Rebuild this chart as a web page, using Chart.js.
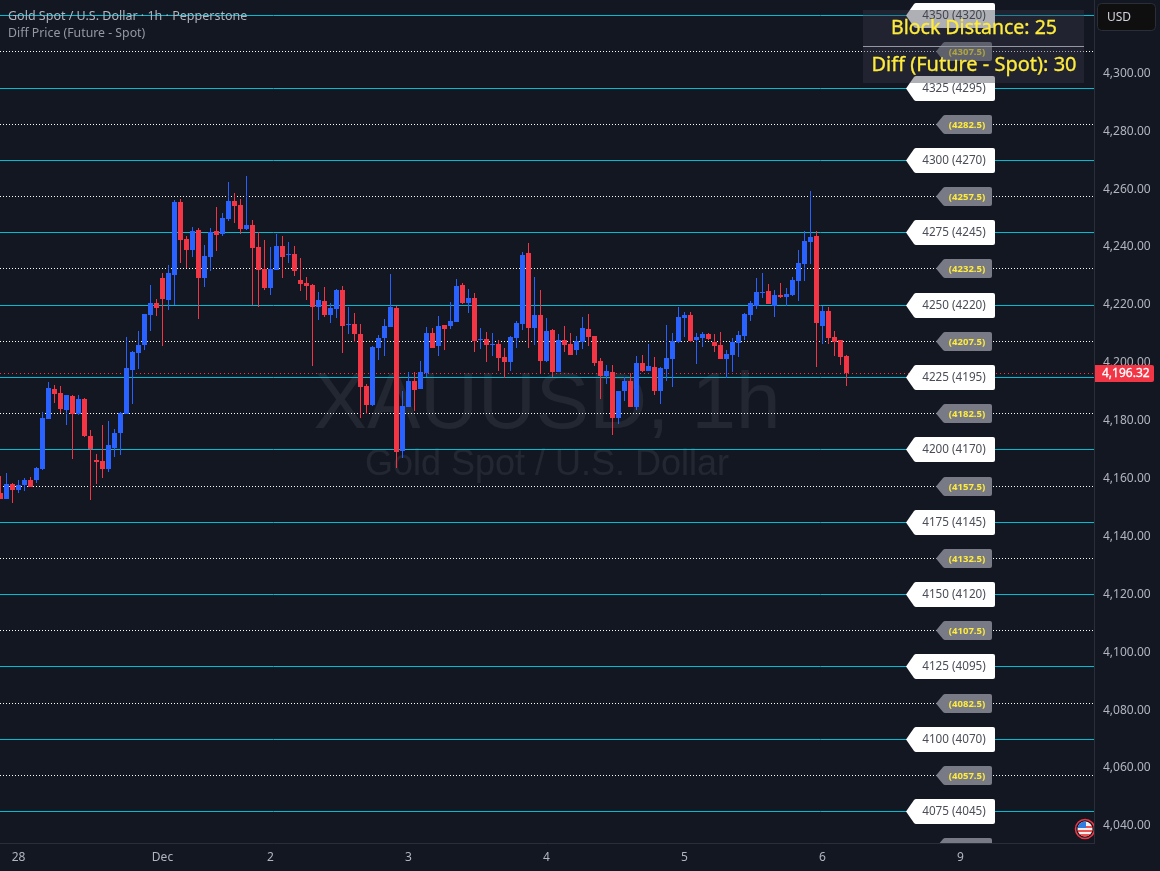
<!DOCTYPE html>
<html>
<head>
<meta charset="utf-8">
<title>XAUUSD 1h</title>
<style>
  html, body { margin: 0; padding: 0; background: #131722; overflow: hidden; }
  canvas { display: block; }
</style>
<script src="https://cdn.jsdelivr.net/npm/chart.js@4/dist/chart.umd.min.js"></script>
</head>
<body>
<canvas id="chart" width="1160" height="871"></canvas>
<script>
// XAUUSD 1h candles
const opens = [4155.2,4153.0,4158.1,4156.1,4157.8,4159.5,4159.5,4163.3,4180.6,4191.0,4189.6,4183.7,4188.5,4182.3,4187.5,4174.7,4166.4,4166.1,4163.3,4170.6,
  4175.8,4182.3,4197.5,4203.4,4206.2,4216.5,4220.7,4229.3,4221.7,4230.3,4255.6,4242.8,4239.0,4245.9,4229.3,4236.6,4245.5,4244.5,4249.7,4255.9,
  4254.5,4246.2,4247.6,4240.0,4232.4,4225.9,4232.1,4240.4,4237.3,4237.6,4228.6,4227.6,4226.9,4219.3,4221.4,4216.5,4218.6,4225.2,4213.1,4213.4,
  4210.0,4192.0,4185.4,4205.1,4208.6,4212.4,4218.9,4169.5,4184.7,4193.7,4191.0,4196.5,4210.3,4205.8,4213.1,4212.7,4214.1,4226.9,4220.7,4222.4,
  4207.9,4208.2,4206.2,4206.5,4202.0,4200.3,4208.6,4213.4,4237.9,4212.0,4216.5,4200.6,4211.3,4196.8,4207.9,4206.5,4204.4,4207.2,4211.7,4209.3,
  4200.6,4195.5,4196.8,4181.0,4190.3,4193.7,4184.8,4200.0,4197.2,4198.6,4190.3,4197.9,4201.3,4207.2,4215.5,4216.5,4207.9,4208.6,4210.0,4207.2,
  4206.2,4201.3,4202.7,4206.9,4209.3,4216.5,4219.6,4224.1,4224.8,4219.6,4223.4,4222.8,4223.4,4228.3,4234.2,4241.8,4243.8,4212.7,4217.9,4208.9,
  4207.9,4202.4];
const highs = [4160.9,4161.9,4158.5,4159.5,4160.2,4160.6,4164.0,4183.0,4193.4,4192.3,4192.0,4188.9,4188.9,4188.9,4187.9,4176.8,4168.5,4178.5,4179.9,4177.1,
  4183.0,4208.9,4204.1,4211.0,4216.9,4226.9,4222.1,4231.0,4233.8,4256.3,4256.6,4243.8,4246.9,4246.6,4240.7,4246.6,4253.8,4251.8,4262.5,4258.7,
  4256.6,4264.5,4249.3,4245.2,4242.4,4240.0,4244.5,4243.8,4241.8,4240.4,4236.2,4229.7,4227.2,4224.5,4226.2,4220.7,4225.5,4226.5,4219.3,4217.2,
  4213.4,4192.7,4205.8,4209.6,4215.1,4230.7,4219.6,4190.3,4196.8,4196.8,4200.6,4212.4,4212.0,4216.2,4213.1,4221.0,4229.0,4227.6,4225.5,4224.1,
  4212.0,4210.7,4210.3,4207.9,4205.1,4209.3,4214.5,4238.3,4241.4,4229.7,4225.2,4215.5,4211.7,4210.0,4212.7,4210.3,4209.3,4215.8,4216.9,4209.3,
  4201.7,4199.3,4199.3,4190.3,4195.1,4196.5,4202.4,4202.7,4206.5,4202.0,4198.6,4213.1,4210.3,4219.3,4217.6,4217.6,4210.3,4210.7,4210.3,4210.0,
  4210.7,4204.4,4208.6,4211.0,4217.2,4221.4,4229.3,4231.0,4227.2,4225.2,4227.6,4225.9,4229.7,4239.0,4245.6,4259.4,4245.6,4219.6,4219.3,4211.0,
  4207.9,4202.7];
const lows = [4153.0,4153.0,4151.6,4155.0,4155.7,4157.1,4158.5,4163.0,4180.6,4186.1,4182.6,4178.5,4166.8,4182.0,4174.4,4152.6,4158.1,4160.2,4162.3,4167.5,
  4168.2,4182.3,4185.8,4197.9,4204.4,4211.0,4216.2,4205.8,4218.3,4220.0,4234.5,4232.8,4236.6,4215.1,4226.2,4231.7,4238.6,4243.8,4249.0,4248.3,
  4244.5,4245.9,4220.0,4219.3,4225.2,4223.4,4232.1,4229.3,4234.5,4230.0,4224.8,4221.7,4198.9,4214.8,4215.8,4213.8,4215.5,4203.4,4210.0,4207.2,
  4180.9,4182.3,4185.1,4201.0,4202.4,4212.4,4163.7,4167.1,4184.7,4183.4,4191.0,4195.1,4205.1,4202.4,4204.4,4211.7,4214.1,4220.3,4217.2,4203.7,
  4204.8,4200.3,4202.4,4197.2,4194.8,4197.2,4205.1,4211.3,4205.1,4206.2,4196.1,4200.3,4195.1,4196.8,4203.7,4202.7,4202.7,4204.8,4205.8,4198.9,
  4187.5,4192.7,4175.1,4178.9,4186.8,4184.8,4183.7,4196.8,4197.2,4188.9,4185.8,4193.7,4191.7,4206.9,4208.9,4207.2,4199.6,4205.5,4207.9,4203.7,
  4201.3,4194.8,4196.8,4202.0,4207.9,4214.5,4218.6,4222.4,4220.3,4215.8,4222.4,4219.6,4223.1,4221.4,4228.3,4234.2,4198.6,4206.5,4206.5,4202.4,
  4199.3,4192.0];
const closes = [4153.0,4158.1,4156.1,4157.8,4159.5,4157.1,4163.7,4180.9,4191.3,4189.2,4184.0,4188.9,4182.3,4187.5,4174.7,4170.2,4165.7,4163.3,4171.6,4175.8,
  4182.7,4198.2,4203.7,4206.2,4216.9,4220.7,4218.9,4222.1,4231.0,4255.6,4242.4,4239.0,4245.5,4229.3,4236.9,4245.2,4244.2,4250.0,4255.9,4254.2,
  4246.2,4247.6,4239.7,4232.1,4225.9,4232.4,4240.4,4236.6,4237.6,4231.7,4227.2,4226.5,4219.3,4221.7,4216.5,4218.9,4225.2,4212.7,4213.4,4210.0,
  4191.7,4185.4,4205.5,4208.6,4212.7,4219.3,4169.2,4185.1,4193.7,4190.6,4196.8,4210.3,4205.1,4212.7,4211.7,4214.5,4226.5,4220.7,4222.4,4207.5,
  4208.2,4206.2,4206.5,4201.7,4200.3,4208.9,4213.8,4237.3,4212.0,4216.5,4200.6,4211.0,4196.8,4207.9,4206.2,4202.7,4207.5,4212.0,4208.9,4200.0,
  4195.5,4197.2,4181.0,4190.3,4193.7,4184.8,4200.0,4197.2,4198.9,4190.3,4198.2,4201.7,4207.5,4215.8,4216.5,4207.5,4208.9,4210.0,4208.2,4205.8,
  4201.3,4203.1,4207.2,4209.6,4216.9,4220.7,4224.5,4224.5,4220.3,4223.4,4222.8,4223.8,4228.6,4234.5,4242.1,4243.5,4213.8,4217.9,4208.6,4207.2,
  4202.0,4196.32];

const lastPrice = 4196.32;
const spotLevels = [4320,4295,4270,4245,4220,4195,4170,4145,4120,4095,4070,4045];
const futureLevels = [4350,4325,4300,4275,4250,4225,4200,4175,4150,4125,4100,4075];
const midLevels = [4307.5,4282.5,4257.5,4232.5,4207.5,4182.5,4157.5,4132.5,4107.5,4082.5,4057.5,4032.5];

const priceTicks = [4300,4280,4260,4240,4220,4200,4180,4160,4140,4120,4100,4080,4060,4040];
const timeTicks = [3,27,45,68,91,114,137,160];
const timeLabels = ['28','Dec','2','3','4','5','6','9'];

const UI_FONT = '"Noto Sans", sans-serif';
const BLUE = '#2962ff', RED = '#f23645', CYAN = '#00bcd4';
const xMin = -0.083, xMax = 182.25;
const yMin = 4034.11, yMax = 4325.355;

function levelLine(y, color, dash, order) {
  return {
    type: 'line', order,
    data: [{x: xMin, y}, {x: xMax, y}],
    borderColor: color, borderWidth: 1, borderDash: dash,
    pointRadius: 0, fill: false, tension: 0
  };
}

const candleIdx = opens.map((_, i) => i);
const isUp = i => closes[i] >= opens[i];

const wickSet = {
  type: 'bar', order: 2, grouped: false, barThickness: 1, inflateAmount: 0,
  data: candleIdx.map(i => ({x: i, y: [lows[i], highs[i]]})),
  backgroundColor: candleIdx.map(i => isUp(i) ? BLUE : RED)
};
const bodySet = {
  type: 'bar', order: 1, grouped: false, barThickness: 5, inflateAmount: 0,
  data: candleIdx.map(i => ({x: i, y: [opens[i], closes[i]]})),
  backgroundColor: candleIdx.map(i => isUp(i) ? BLUE : RED)
};

const datasets = [
  bodySet,
  wickSet,
  levelLine(lastPrice, RED, [1, 3], 3),
  ...spotLevels.map(v => levelLine(v, CYAN, [], 4)),
  ...midLevels.map(v => levelLine(v, '#ffffff', [1, 2], 4))
];

// pixel row a horizontal level lands on
const snapRow = y => Math.round(y - 0.3) + 0.5;

// keep lines and candle edges on whole pixels, the way the original is drawn
const snapPlugin = {
  id: 'snap',
  beforeDatasetsDraw(chart) {
    chart.data.datasets.forEach((ds, n) => {
      const meta = chart.getDatasetMeta(n);
      if (ds.type === 'line') {
        meta.data.forEach(p => { p.y = snapRow(p.y); });
      } else {
        meta.data.forEach(b => {
          const top = Math.round(Math.min(b.y, b.base));
          const bot = Math.max(Math.round(Math.max(b.y, b.base)), top + 1);
          b.y = top; b.base = bot;
        });
      }
    });
  }
};

const watermarkPlugin = {
  id: 'watermark',
  beforeDatasetsDraw(chart) {
    const ctx = chart.ctx;
    ctx.save();
    ctx.fillStyle = 'rgba(255,255,255,0.07)';
    ctx.textAlign = 'center';
    ctx.textBaseline = 'alphabetic';
    ctx.font = '80px "Liberation Sans", sans-serif';
    ctx.fillText('XAUUSD, 1h', 547, 428);
    ctx.font = '36px "Liberation Sans", sans-serif';
    ctx.fillText('Gold Spot / U.S. Dollar', 547, 475);
    ctx.restore();
  }
};

function drawTag(ctx, y, tip, left, right, h, color) {
  const t = y - h / 2, b = y + h / 2;
  ctx.fillStyle = color;
  ctx.beginPath();
  ctx.moveTo(tip, y);
  ctx.lineTo(left, t + 1);
  ctx.quadraticCurveTo(left + 1, t, left + 2, t);
  ctx.lineTo(right - 2, t);
  ctx.quadraticCurveTo(right, t, right, t + 2);
  ctx.lineTo(right, b - 2);
  ctx.quadraticCurveTo(right, b, right - 2, b);
  ctx.lineTo(left + 2, b);
  ctx.quadraticCurveTo(left + 1, b, left, b - 1);
  ctx.closePath();
  ctx.fill();
}

function drawFlag(ctx) {
  ctx.save();
  ctx.beginPath();
  ctx.rect(1070, 810, 24, 33);
  ctx.clip();
  ctx.beginPath();
  ctx.arc(1085, 829, 9.5, 0, Math.PI * 2);
  ctx.fillStyle = '#131722';
  ctx.fill();
  ctx.lineWidth = 1.5;
  ctx.strokeStyle = '#f23645';
  ctx.stroke();
  ctx.beginPath();
  ctx.arc(1085, 829, 7.5, 0, Math.PI * 2);
  ctx.clip();
  ctx.fillStyle = '#f0f0f0';
  ctx.fillRect(1076, 820, 20, 18);
  ctx.fillStyle = '#ef5350';
  ctx.fillRect(1076, 826, 20, 2);
  ctx.fillRect(1076, 830, 20, 2);
  ctx.fillRect(1076, 834, 20, 4);
  ctx.fillStyle = '#2f7de1';
  ctx.fillRect(1076, 820, 10, 8);
  ctx.restore();
}

const overlayPlugin = {
  id: 'overlay',
  afterDraw(chart) {
    const ctx = chart.ctx;
    const yScale = chart.scales.y;
    const W = chart.chartArea.right, H = chart.chartArea.bottom;

    // level tags, clipped to the pane
    ctx.save();
    ctx.beginPath();
    ctx.rect(0, 0, W, H);
    ctx.clip();
    ctx.textAlign = 'center';
    ctx.textBaseline = 'middle';
    spotLevels.forEach((v, i) => {
      const y = snapRow(yScale.getPixelForValue(v));
      drawTag(ctx, y, 906, 914, 995, 25, '#ffffff');
      ctx.fillStyle = '#4a4d57';
      ctx.font = '11.7px ' + UI_FONT;
      ctx.fillText(futureLevels[i] + ' (' + v + ')', 954, y + 0.5);
    });
    midLevels.forEach(v => {
      const y = snapRow(yScale.getPixelForValue(v));
      drawTag(ctx, y, 936, 943, 992, 19, '#787b86');
      ctx.fillStyle = '#ffeb3b';
      ctx.font = 'bold 9.5px ' + UI_FONT;
      ctx.fillText('(' + v + ')', 967, y + 0.5);
    });
    ctx.restore();

    // legend text
    ctx.save();
    ctx.textAlign = 'left';
    ctx.textBaseline = 'middle';
    ctx.fillStyle = '#b2b5be';
    ctx.font = '12.5px ' + UI_FONT;
    ctx.fillText('Gold Spot / U.S. Dollar · 1h · Pepperstone', 8, 16);
    ctx.fillStyle = '#9598a1';
    ctx.font = '12.3px ' + UI_FONT;
    ctx.fillText('Diff Price (Future - Spot)', 8, 33);
    ctx.restore();

    // info table
    ctx.save();
    ctx.fillStyle = 'rgba(54,58,69,0.4)';
    ctx.fillRect(863, 10, 221, 73);
    ctx.fillStyle = '#9598a1';
    ctx.fillRect(863, 46, 221, 1);
    ctx.fillStyle = '#ffeb3b';
    ctx.strokeStyle = '#ffeb3b';
    ctx.lineWidth = 0.3;
    ctx.textAlign = 'center';
    ctx.textBaseline = 'middle';
    ctx.font = '19.5px ' + UI_FONT;
    ctx.fillText('Block Distance: 25', 974, 28);
    ctx.strokeText('Block Distance: 25', 974, 28);
    ctx.font = '20px ' + UI_FONT;
    ctx.fillText('Diff (Future - Spot): 30', 974, 65);
    ctx.strokeText('Diff (Future - Spot): 30', 974, 65);
    ctx.restore();

    drawFlag(ctx);

    // last price tag
    const py = snapRow(yScale.getPixelForValue(lastPrice));
    ctx.save();
    ctx.fillStyle = RED;
    ctx.beginPath();
    ctx.roundRect(1095, py - 8.5, 59, 17, [0, 2, 2, 0]);
    ctx.fill();
    ctx.fillStyle = '#ffffff';
    ctx.strokeStyle = '#ffffff';
    ctx.lineWidth = 0.3;
    ctx.font = '12px ' + UI_FONT;
    ctx.textAlign = 'left';
    ctx.textBaseline = 'middle';
    const priceText = lastPrice.toLocaleString('en-US', {minimumFractionDigits: 2});
    ctx.fillText(priceText, 1102, py + 0.5);
    ctx.strokeText(priceText, 1102, py + 0.5);
    ctx.restore();

    // currency button
    ctx.save();
    ctx.fillStyle = '#0f0f10';
    ctx.strokeStyle = '#2a2e39';
    ctx.lineWidth = 1;
    ctx.beginPath();
    ctx.roundRect(1097.5, 3.5, 58, 27, 4);
    ctx.fill();
    ctx.stroke();
    ctx.fillStyle = '#d1d4dc';
    ctx.font = '12px ' + UI_FONT;
    ctx.textAlign = 'left';
    ctx.textBaseline = 'middle';
    ctx.fillText('USD', 1107, 17.5);
    ctx.restore();
  }
};

new Chart(document.getElementById('chart'), {
  data: { datasets },
  options: {
    responsive: false,
    animation: false,
    layout: { padding: 0 },
    events: [],
    plugins: { legend: { display: false }, tooltip: { enabled: false } },
    scales: {
      x: {
        type: 'linear', min: xMin, max: xMax, offset: false,
        grid: { display: false, offset: false, drawTicks: false },
        border: { color: '#2a2e39' },
        afterBuildTicks: s => { s.ticks = timeTicks.map(value => ({value})); },
        afterFit: s => { s.height = 28; s.paddingLeft = 0; s.paddingRight = 0; },
        ticks: {
          autoSkip: false, maxRotation: 0, padding: 7,
          color: '#b2b5be', font: { family: 'Noto Sans', size: 12 },
          callback: v => timeLabels[timeTicks.indexOf(v)]
        }
      },
      y: {
        type: 'linear', position: 'right', min: yMin, max: yMax,
        grid: { display: false, drawTicks: false },
        border: { color: '#2a2e39' },
        afterBuildTicks: s => { s.ticks = priceTicks.map(value => ({value})); },
        afterFit: s => { s.width = 66; s.paddingTop = 0; s.paddingBottom = 0; },
        ticks: {
          padding: 9,
          color: '#b2b5be', font: { family: 'Noto Sans', size: 12 },
          callback: v => v.toLocaleString('en-US', {minimumFractionDigits: 2})
        }
      }
    }
  },
  plugins: [snapPlugin, watermarkPlugin, overlayPlugin]
});
</script>
</body>
</html>
